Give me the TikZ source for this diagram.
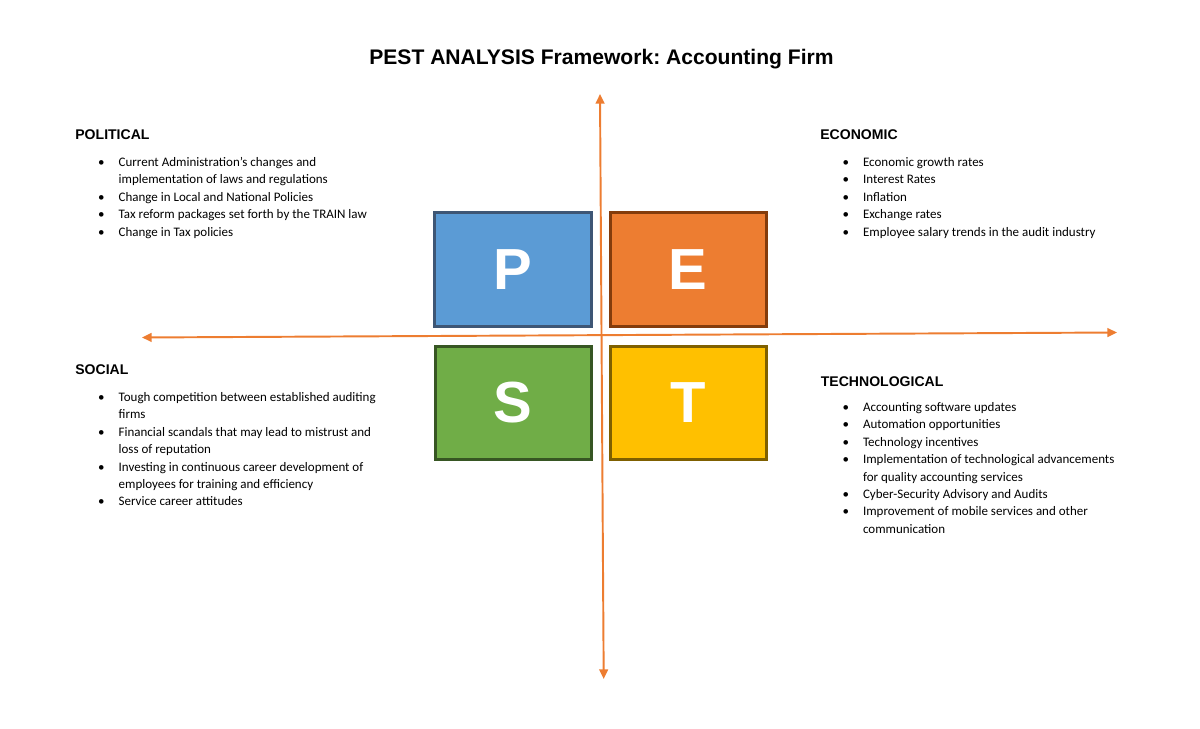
\documentclass[tikz,border=0pt]{standalone}
\usepackage{fontspec}
\setmainfont{Carlito}
\newfontfamily\headfont{Liberation Sans}
\usetikzlibrary{arrows.meta}
\frenchspacing

\definecolor{axisorange}{HTML}{ED7D31}
\definecolor{pfill}{HTML}{5B9BD5}
\definecolor{pline}{HTML}{3E5675}
\definecolor{efill}{HTML}{ED7D31}
\definecolor{eline}{HTML}{843C0C}
\definecolor{sfill}{HTML}{70AD47}
\definecolor{sline}{HTML}{375623}
\definecolor{tfill}{HTML}{FFC000}
\definecolor{tline}{HTML}{7F6000}

\newcommand{\pestitems}[1]{\begin{tabular}[t]{@{}p{0.41cm}@{}l@{}}#1\end{tabular}}

\tikzset{
    pestbox/.style={draw, line width=1.7pt, minimum width=3.13cm, minimum height=2.27cm,
        inner sep=0pt, text=white, font=\headfont\bfseries\fontsize{33}{33}\selectfont},
    heading/.style={anchor=base west, inner sep=0pt, font=\headfont\bfseries\fontsize{8}{9.6}\selectfont},
    itemlist/.style={anchor=base west, inner sep=0pt, font=\fontsize{7.4}{9.9}\selectfont},
    axis/.style={axisorange, line width=1.1pt, <->, >={Triangle[length=5.5pt,width=5pt]}}
}

\begin{document}
\begin{tikzpicture}[x=0.02cm, y=-0.02cm]
    \useasboundingbox (0,0) rectangle (1200,729);
    % axes
    \coordinate (Vtop) at (600,94);
    \coordinate (Vbot) at (603.7,679);
    \coordinate (Hleft) at (142,337.5);
    \coordinate (Hright) at (1117,332.5);
    \draw[axis] (Vbot) -- (Vtop);
    \draw[axis] (Hleft) -- (Hright);
    % the four boxes
    \node[pestbox, fill=pfill, draw=pline] (P) at (513,269.5) {P};
    \node[pestbox, fill=efill, draw=eline] (E) at (688.3,269.6) {E};
    \node[pestbox, fill=sfill, draw=sline] (S) at (513.3,403) {S};
    \node[pestbox, fill=tfill, draw=tline] (T) at (688.3,403) {T};
    % title
    \node[anchor=base, inner sep=0pt, font=\headfont\bfseries\fontsize{12}{14}\selectfont] (title)
        at (601.5,65) {PEST ANALYSIS Framework: Accounting Firm};
    % headings
    \node[heading] (political) at (75,140) {POLITICAL};
    \node[heading] (economic) at (820,140) {ECONOMIC};
    \node[heading] (social) at (75,375) {SOCIAL};
    \node[heading] (technological) at (820.5,386.5) {TECHNOLOGICAL};
    % lists
    \node[itemlist] (politicalitems) at (97.8,166.5) {\pestitems{%
        \textbullet & Current Administration’s changes and\\
                    & implementation of laws and regulations\\
        \textbullet & Change in Local and National Policies\\
        \textbullet & Tax reform packages set forth by the TRAIN law\\
        \textbullet & Change in Tax policies}};
    \node[itemlist] (economicitems) at (842.2,166.5) {\pestitems{%
        \textbullet & Economic growth rates\\
        \textbullet & Interest Rates\\
        \textbullet & Inflation\\
        \textbullet & Exchange rates\\
        \textbullet & Employee salary trends in the audit industry}};
    \node[itemlist] (socialitems) at (97.8,401.5) {\pestitems{%
        \textbullet & Tough competition between established auditing\\
                    & firms\\
        \textbullet & Financial scandals that may lead to mistrust and\\
                    & loss of reputation\\
        \textbullet & Investing in continuous career development of\\
                    & employees for training and efficiency\\
        \textbullet & Service career attitudes}};
    \node[itemlist] (technologicalitems) at (842.2,411.5) {\pestitems{%
        \textbullet & Accounting software updates\\
        \textbullet & Automation opportunities\\
        \textbullet & Technology incentives\\
        \textbullet & Implementation of technological advancements\\
                    & for quality accounting services\\
        \textbullet & Cyber-Security Advisory and Audits\\
        \textbullet & Improvement of mobile services and other\\
                    & communication}};
\end{tikzpicture}
\end{document}
